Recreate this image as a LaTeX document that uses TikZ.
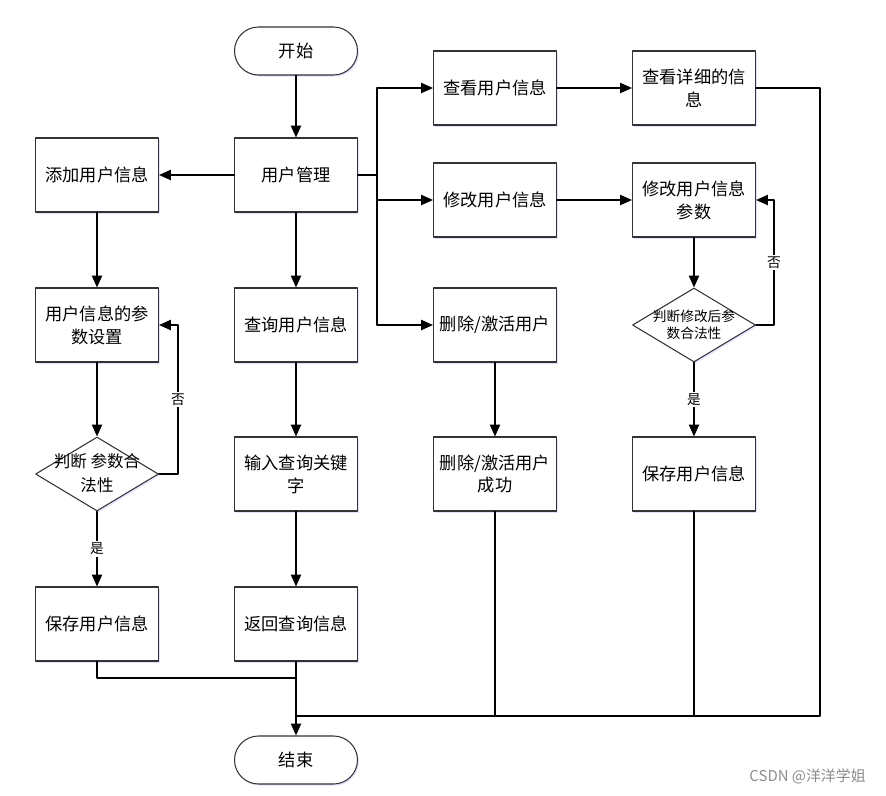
\documentclass[tikz,border=0pt]{standalone}
\usepackage{fontspec}
\setmainfont{Noto Sans CJK SC}
\usepackage{tikz}
\usetikzlibrary{arrows.meta,shapes.geometric,shadows}
\newcommand{\dtext}[1]{\makebox[0pt]{\raisebox{-2.8pt}[0pt][0pt]{\begin{tabular}{@{}c@{}}#1\end{tabular}}}}
\tikzset{
  blk/.style={draw=black!80,line width=0.6pt,fill=white,minimum width=2.46cm,minimum height=1.48cm,
    align=center,font=\fontsize{9.8}{13}\selectfont,
    drop shadow={shadow xshift=0.8pt,shadow yshift=-0.9pt,fill=blue!25,opacity=0.45}},
  term/.style={blk,rounded corners=0.48cm,minimum height=0.96cm},
  decision/.style={blk,diamond,aspect=1.66,inner sep=0pt},
  lab/.style={fill=white,inner sep=1pt,font=\fontsize{7.8}{9}\selectfont},
  flow/.style={line width=1pt}
}
\begin{document}
\begin{tikzpicture}[line cap=round,line join=round,>={Triangle[length=6.8pt,width=5.8pt]},x=0.02cm,y=-0.02cm]
\useasboundingbox (0,0) rectangle (886,795);
\node[term] (start) at (296,51) {开始};
\node[blk] (mgr) at (296,175) {用户管理};
\node[blk] (add) at (97,175) {添加用户信息};
\node[blk] (param) at (97,325) {用户信息的参\\数设置};
\node[decision,font=\fontsize{9.4}{13.5}\selectfont] (chk1) at (97,474) {\dtext{判断 参数合\\法性}};
\node[blk] (save1) at (97,624) {保存用户信息};
\node[blk] (query) at (296,325) {查询用户信息};
\node[blk] (input) at (296,474) {输入查询关键\\字};
\node[blk] (ret) at (296,624) {返回查询信息};
\node[term] (end) at (296,760) {结束};
\node[blk] (view) at (495,88) {查看用户信息};
\node[blk] (modify) at (495,200) {修改用户信息};
\node[blk] (del) at (495,325) {删除/激活用户};
\node[blk] (delok) at (495,474) {删除/激活用户\\成功};
\node[blk] (detail) at (694,88) {查看详细的信\\息};
\node[blk] (mparam) at (694,200) {修改用户信息\\参数};
\node[decision,font=\fontsize{7.8}{10.2}\selectfont] (chk2) at (694,325) {\dtext{判断修改后参\\数合法性}};
\node[blk] (save2) at (694,474) {保存用户信息};
\node[text=black!45,font=\fontsize{8.5}{10}\selectfont,anchor=east] (mark) at (872,776) {CSDN @洋洋学姐};
\coordinate (br) at (377,175);
\coordinate (m1) at (296,678);
\coordinate (m2) at (296,716);
\coordinate (rc) at (820,716);
\draw[flow,->] (start) -- (mgr);
\draw[flow,->] (mgr) -- (add);
\draw[flow,->] (add) -- (param);
\draw[flow,->] (param) -- (chk1);
\draw[flow,->] (chk1) -- node[lab] (yes1) {是} (save1);
\draw[flow,->] (chk1.east) -- ++(19,0) |- node[lab,pos=0.25] (no1) {否} (param.east);
\draw[flow,->] (mgr) -- (query);
\draw[flow,->] (query) -- (input);
\draw[flow,->] (input) -- (ret);
\draw[flow,->] (ret) -- (end);
\draw[flow] (mgr.east) -- (br);
\draw[flow,->] (br) |- (view.west);
\draw[flow,->] (br) |- (modify.west);
\draw[flow,->] (br) |- (del.west);
\draw[flow,->] (view) -- (detail);
\draw[flow,->] (modify) -- (mparam);
\draw[flow,->] (del) -- (delok);
\draw[flow,->] (mparam) -- (chk2);
\draw[flow,->] (chk2) -- node[lab] (yes2) {是} (save2);
\draw[flow,->] (chk2.east) -- ++(18,0) |- node[lab,pos=0.25] (no2) {否} (mparam.east);
\draw[flow] (save1.south) |- (m1);
\draw[flow] (delok.south) |- (m2);
\draw[flow] (save2.south) |- (m2);
\draw[flow] (detail.east) -| (rc) -- (m2);
\end{tikzpicture}
\end{document}
